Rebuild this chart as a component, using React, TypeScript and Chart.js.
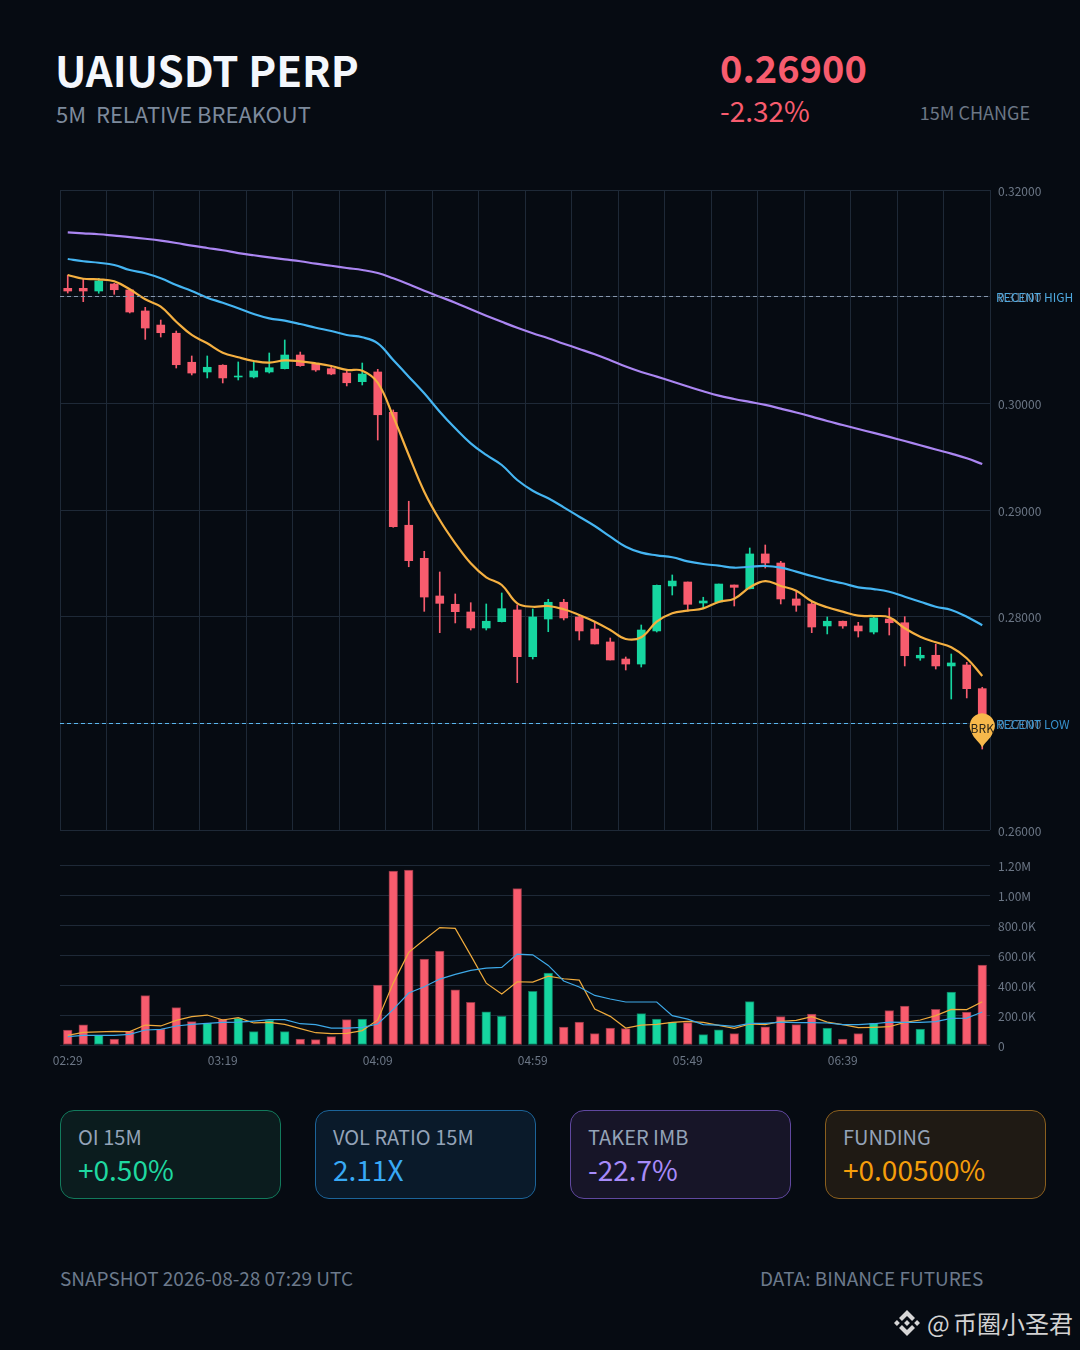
import React, { useEffect, useRef } from "react";
import { Chart, registerables } from "chart.js";

Chart.register(...registerables);

const FONT = '"Noto Sans CJK SC", "Noto Sans", sans-serif';
const BG = "#060b12";
const GRID = "#1e2937";
const TICK = "#6c7786";
const RED = "#f85c6e";
const GREEN = "#16d6a0";

const times = [
  "02:29","02:34","02:39","02:44","02:49","02:54","02:59","03:04","03:09","03:14",
  "03:19","03:24","03:29","03:34","03:39","03:44","03:49","03:54","03:59","04:04",
  "04:09","04:14","04:19","04:24","04:29","04:34","04:39","04:44","04:49","04:54",
  "04:59","05:04","05:09","05:14","05:19","05:24","05:29","05:34","05:39","05:44",
  "05:49","05:54","05:59","06:04","06:09","06:14","06:19","06:24","06:29","06:34",
  "06:39","06:44","06:49","06:54","06:59","07:04","07:09","07:14","07:19","07:24",
];

const opens = [
  0.31078,0.31078,0.31053,0.31119,0.31063,0.30866,0.30734,0.30657,0.30385,0.30294,
  0.30357,0.30247,0.30247,0.30294,0.30325,0.30453,0.30369,0.30325,0.30284,0.30203,
  0.30294,0.29916,0.28857,0.28547,0.28194,0.28116,0.28044,0.27894,0.27953,0.28063,
  0.27625,0.27978,0.28135,0.27997,0.27884,0.27763,0.27603,0.27556,0.27866,0.28288,
  0.28325,0.28128,0.28138,0.28297,0.28262,0.28588,0.28503,0.28166,0.28119,0.27913,
  0.27957,0.27913,0.27856,0.27978,0.27943,0.27613,0.27638,0.27538,0.27547,0.27325,
];
const closes = [
  0.31053,0.31053,0.31147,0.31065,0.30856,0.30706,0.30662,0.30362,0.30284,0.30338,
  0.30238,0.30256,0.30303,0.30334,0.30453,0.30353,0.30313,0.30275,0.30193,0.30275,
  0.29893,0.28843,0.28525,0.28184,0.28125,0.28047,0.27894,0.27957,0.28075,0.27625,
  0.27997,0.28135,0.27988,0.27866,0.27744,0.27594,0.27556,0.27875,0.28294,0.28334,
  0.28116,0.28147,0.28306,0.28275,0.28588,0.28503,0.28166,0.28107,0.27903,0.27957,
  0.27913,0.27866,0.27988,0.27943,0.27634,0.27638,0.27538,0.27566,0.27325,0.26900,
];
const highs = [
  0.31203,0.31166,0.31172,0.31125,0.31069,0.30900,0.30781,0.30678,0.30444,0.30444,
  0.30362,0.30388,0.30388,0.30472,0.30594,0.30481,0.30375,0.30357,0.30313,0.30378,
  0.30319,0.29938,0.29082,0.28613,0.28419,0.28213,0.28131,0.28119,0.28222,0.28109,
  0.28072,0.28163,0.28163,0.28016,0.27950,0.27800,0.27622,0.27922,0.28297,0.28391,
  0.28325,0.28182,0.28306,0.28297,0.28644,0.28672,0.28519,0.28238,0.28138,0.27997,
  0.27959,0.27947,0.27994,0.28081,0.28000,0.27713,0.27741,0.27650,0.27572,0.27338,
];
const lows = [
  0.31034,0.30953,0.31032,0.31022,0.30847,0.30600,0.30622,0.30331,0.30266,0.30238,
  0.30191,0.30219,0.30238,0.30284,0.30322,0.30347,0.30300,0.30268,0.30163,0.30172,
  0.29656,0.28838,0.28468,0.28050,0.27850,0.27941,0.27875,0.27875,0.27950,0.27381,
  0.27603,0.27859,0.27969,0.27781,0.27744,0.27594,0.27500,0.27528,0.27856,0.28203,
  0.28053,0.28081,0.28138,0.28100,0.28259,0.28456,0.28119,0.28050,0.27850,0.27838,
  0.27891,0.27809,0.27838,0.27828,0.27538,0.27591,0.27509,0.27228,0.27238,0.26759,
];

const emaFast = [
  0.31203,0.31168,0.31163,0.31144,0.31069,0.30975,0.30906,0.30765,0.30641,0.30563,
  0.30475,0.30432,0.30397,0.30381,0.30403,0.30394,0.30375,0.30350,0.30313,0.30306,
  0.30193,0.29875,0.29516,0.29172,0.28906,0.28688,0.28500,0.28369,0.28297,0.28125,
  0.28093,0.28100,0.28069,0.28016,0.27953,0.27875,0.27791,0.27807,0.27953,0.28032,
  0.28056,0.28078,0.28138,0.28168,0.28275,0.28334,0.28288,0.28243,0.28144,0.28088,
  0.28047,0.28009,0.28006,0.27994,0.27891,0.27812,0.27760,0.27713,0.27610,0.27444,
];
const emaMid = [
  0.31353,0.31332,0.31318,0.31297,0.31250,0.31219,0.31172,0.31109,0.31053,0.30990,
  0.30943,0.30891,0.30838,0.30797,0.30775,0.30744,0.30709,0.30678,0.30641,0.30619,
  0.30563,0.30406,0.30250,0.30094,0.29922,0.29766,0.29625,0.29516,0.29422,0.29281,
  0.29181,0.29110,0.29025,0.28937,0.28850,0.28750,0.28656,0.28600,0.28575,0.28557,
  0.28519,0.28494,0.28478,0.28459,0.28468,0.28475,0.28459,0.28422,0.28381,0.28344,
  0.28313,0.28275,0.28259,0.28234,0.28187,0.28140,0.28093,0.28063,0.28000,0.27919,
];
const emaSlow = [
  0.31603,0.31594,0.31585,0.31572,0.31559,0.31543,0.31525,0.31503,0.31478,0.31456,
  0.31435,0.31409,0.31388,0.31369,0.31350,0.31332,0.31309,0.31290,0.31269,0.31250,
  0.31222,0.31172,0.31116,0.31056,0.31000,0.30943,0.30882,0.30822,0.30764,0.30708,
  0.30657,0.30610,0.30559,0.30510,0.30460,0.30404,0.30345,0.30294,0.30250,0.30205,
  0.30158,0.30113,0.30072,0.30041,0.30013,0.29985,0.29950,0.29914,0.29875,0.29834,
  0.29797,0.29759,0.29723,0.29685,0.29647,0.29607,0.29567,0.29528,0.29485,0.29431,
];

const volumes = [
  100000,135000,67000,40000,93000,329000,107000,249000,156000,147000,
  173000,178000,89000,164000,89000,40000,36000,56000,169000,173000,
  400000,1160000,1167000,573000,627000,369000,284000,222000,191000,1044000,
  358000,480000,120000,153000,76000,113000,109000,209000,173000,153000,
  149000,69000,102000,76000,289000,122000,189000,136000,207000,113000,
  40000,76000,147000,229000,260000,107000,238000,353000,220000,533000,
];
const volFast = [
  64000,84000,87000,91000,89000,133000,127000,164000,189000,200000,
  167000,182000,147000,151000,138000,109000,82000,76000,78000,96000,
  167000,413000,618000,702000,784000,778000,598000,413000,340000,422000,
  420000,460000,442000,433000,240000,191000,113000,133000,138000,151000,
  158000,151000,131000,111000,140000,136000,158000,164000,189000,153000,
  136000,116000,118000,122000,151000,167000,196000,238000,236000,289000,
];
const volSlow = [
  56000,64000,64000,64000,71000,100000,104000,127000,138000,144000,
  151000,153000,160000,169000,169000,142000,136000,113000,113000,118000,
  140000,238000,347000,389000,440000,471000,498000,513000,518000,607000,
  602000,531000,427000,387000,331000,307000,287000,287000,287000,196000,
  173000,136000,133000,124000,144000,144000,153000,149000,149000,147000,
  136000,136000,142000,153000,151000,151000,156000,178000,180000,220000,
];

const recentHigh = 0.31;
const recentLow = 0.27;
const breakoutPrice = 0.2677;
const priceTicks = [0.26, 0.27, 0.28, 0.29, 0.3, 0.31, 0.32];

const metricLabels = ["OI 15M", "VOL RATIO 15M", "TAKER IMB", "FUNDING"];
const metricValues = ["+0.50%", "2.11X", "-22.7%", "+0.00500%"];
const metricColors = ["#1fd8a0", "#38a9f5", "#a78bfa", "#f59e0b"];
const metricBg = ["#0b1c1e", "#0a1a2a", "#171528", "#1f1a14"];
const metricBorder = ["#127a5c", "#1c6499", "#60489f", "#8a5f1e"];
const metricLeft = [60, 315, 570, 825];

const isUp = opens.map((o, i) => closes[i] >= o);
const barColors = isUp.map((u) => (u ? GREEN : RED));
const barEdges = isUp.map((u) => (u ? "rgba(14,140,106,0.9)" : "rgba(160,60,74,0.9)"));

const overlayPlugin = {
  id: "overlay",
  afterDatasetsDraw(chart: any) {
    const { ctx, chartArea, scales } = chart;
    const y = scales.y;
    const x = scales.x;
    const rows = [
      { v: recentHigh, t: "RECENT HIGH", line: "#8797ad", txt: "rgba(85,185,245,0.9)" },
      { v: recentLow, t: "RECENT LOW", line: "#5ab6ee", txt: "rgba(60,160,225,0.9)" },
    ];
    ctx.save();
    for (const r of rows) {
      const py = Math.floor(y.getPixelForValue(r.v)) + 0.5;
      ctx.strokeStyle = r.line;
      ctx.lineWidth = 1;
      ctx.setLineDash([4, 3]);
      ctx.beginPath();
      ctx.moveTo(chartArea.left, py);
      ctx.lineTo(chartArea.right, py);
      ctx.stroke();
      ctx.setLineDash([]);
      ctx.fillStyle = r.txt;
      ctx.font = `12px ${FONT}`;
      ctx.textAlign = "left";
      ctx.textBaseline = "middle";
      ctx.fillText(r.t, chartArea.right + 6, py + 1);
    }
    // breakout pin, tip sits on the breakout price of the last candle
    const px = x.getPixelForValue(times.length - 1);
    const tip = y.getPixelForValue(breakoutPrice);
    const r = 12.5;
    const cy = tip - 22;
    ctx.fillStyle = "#f7b84b";
    ctx.beginPath();
    ctx.arc(px, cy, r, Math.PI * 0.82, Math.PI * 0.18);
    ctx.bezierCurveTo(px + r * 0.7, cy + r * 1.05, px + 1.5, tip - 5, px, tip);
    ctx.bezierCurveTo(px - 1.5, tip - 5, px - r * 0.7, cy + r * 1.05, px - r * Math.cos(Math.PI * 0.18), cy + r * Math.sin(Math.PI * 0.18));
    ctx.closePath();
    ctx.fill();
    ctx.fillStyle = "#2a2418";
    ctx.font = `12px ${FONT}`;
    ctx.textAlign = "center";
    ctx.textBaseline = "middle";
    ctx.fillText("BRK", px, cy + 3);
    ctx.restore();
  },
};

function useChart(makeConfig: () => any) {
  const ref = useRef<HTMLCanvasElement>(null);
  useEffect(() => {
    if (!ref.current) return;
    const chart = new Chart(ref.current, makeConfig());
    return () => chart.destroy();
  }, []);
  return ref;
}

function priceConfig() {
  return {
    type: "bar",
    plugins: [overlayPlugin],
    data: {
      labels: times,
      datasets: [
        {
          type: "bar",
          data: lows.map((l, i) => [l, highs[i]]),
          backgroundColor: barColors,
          barThickness: 1,
          grouped: false,
          order: 10,
        },
        {
          type: "bar",
          data: opens.map((o, i) => [o, closes[i]]),
          backgroundColor: barColors,
          barThickness: 8,
          grouped: false,
          order: 9,
        },
        { type: "line", data: emaSlow, borderColor: "#ab86f2", borderWidth: 2.2, pointRadius: 0, tension: 0.4, order: 3 },
        { type: "line", data: emaMid, borderColor: "#45b5f2", borderWidth: 2.2, pointRadius: 0, tension: 0.4, order: 2 },
        { type: "line", data: emaFast, borderColor: "#f5b041", borderWidth: 2.2, pointRadius: 0, tension: 0.4, order: 1 },
      ],
    },
    options: {
      animation: false,
      responsive: false,
      devicePixelRatio: 1,
      events: [],
      layout: { padding: { left: 60, top: 20, bottom: 20, right: 0 } },
      plugins: { legend: { display: false }, tooltip: { enabled: false } },
      scales: {
        x: {
          type: "category",
          offset: true,
          border: { display: false },
          grid: {
            offset: true,
            drawTicks: false,
            lineWidth: 1,
            color: (c: any) => (c.index === undefined || c.index % 3 === 0 ? GRID : "transparent"),
          },
          ticks: { display: false, autoSkip: false },
        },
        y: {
          position: "right",
          min: 0.26,
          max: 0.32,
          border: { display: false },
          grid: { color: GRID, drawTicks: false },
          afterBuildTicks: (s: any) => {
            s.ticks = priceTicks.map((value) => ({ value }));
          },
          afterFit: (s: any) => {
            s.width = 90;
          },
          ticks: {
            color: TICK,
            padding: 8,
            labelOffset: 1,
            font: { family: FONT, size: 12 },
            callback: (v: any) => Number(v).toFixed(5),
          },
        },
      },
    },
  };
}

function fmtVol(v: number) {
  if (v === 0) return "0";
  if (v >= 1000000) return (v / 1000000).toFixed(2) + "M";
  return (v / 1000).toFixed(1) + "K";
}

function volumeConfig() {
  return {
    type: "bar",
    data: {
      labels: times,
      datasets: [
        {
          type: "bar",
          data: volumes,
          backgroundColor: barColors,
          borderColor: barEdges,
          borderWidth: 1,
          borderSkipped: false,
          barThickness: 8.7,
          order: 5,
        },
        { type: "line", data: volFast, borderColor: "#eeaa3c", borderWidth: 1.2, pointRadius: 0, tension: 0, order: 2 },
        { type: "line", data: volSlow, borderColor: "#3ea9e8", borderWidth: 1.2, pointRadius: 0, tension: 0, order: 1 },
      ],
    },
    options: {
      animation: false,
      responsive: false,
      devicePixelRatio: 1,
      events: [],
      layout: { padding: { left: 60, top: 15, bottom: 0, right: 0 } },
      plugins: { legend: { display: false }, tooltip: { enabled: false } },
      scales: {
        x: {
          type: "category",
          offset: true,
          border: { display: false },
          grid: { display: false },
          afterFit: (s: any) => {
            s.height = 35;
          },
          ticks: {
            color: TICK,
            padding: 0,
            maxRotation: 0,
            autoSkip: false,
            font: { family: FONT, size: 12 },
            callback: (_: any, i: number) => (i % 10 === 0 ? times[i] : ""),
          },
        },
        y: {
          position: "right",
          min: 0,
          max: 1200000,
          border: { display: false },
          grid: { color: GRID, drawTicks: false },
          afterFit: (s: any) => {
            s.width = 90;
          },
          ticks: {
            color: TICK,
            padding: 8,
            labelOffset: 1,
            stepSize: 200000,
            font: { family: FONT, size: 12 },
            callback: (v: any) => fmtVol(Number(v)),
          },
        },
      },
    },
  };
}

function Txt(props: { x?: number; right?: number; y: number; size: number; color: string; weight?: number; children: any }) {
  const { x, right, y, size, color, weight, children } = props;
  return (
    <div
      style={{
        position: "absolute",
        left: x,
        right,
        top: y,
        fontSize: size,
        lineHeight: `${size}px`,
        color,
        fontWeight: weight ?? 400,
        fontFamily: FONT,
        whiteSpace: "pre",
      }}
    >
      {children}
    </div>
  );
}

export default function App() {
  const priceRef = useChart(priceConfig);
  const volumeRef = useChart(volumeConfig);
  return (
    <div style={{ position: "relative", width: 1080, height: 1350, background: BG, overflow: "hidden" }}>
      <style>{`html,body{margin:0;padding:0;background:${BG};}`}</style>

      <Txt x={55} y={48} size={42} color="#f4f7fc" weight={700}>UAIUSDT PERP</Txt>
      <Txt x={56} y={102} size={22} color="#7d8a9c">5M  RELATIVE BREAKOUT</Txt>
      <Txt x={720} y={48} size={38} color={RED} weight={700}>0.26900</Txt>
      <Txt x={720} y={96} size={28} color={RED}>-2.32%</Txt>
      <Txt right={50} y={103} size={18} color="#6c7786">15M CHANGE</Txt>

      <canvas ref={priceRef} width={1080} height={680} style={{ position: "absolute", left: 0, top: 170, display: "block" }} />
      <canvas ref={volumeRef} width={1080} height={230} style={{ position: "absolute", left: 0, top: 850, display: "block" }} />

      {metricLabels.map((label, i) => (
        <div
          key={label}
          style={{
            position: "absolute",
            left: metricLeft[i],
            top: 1110,
            width: 221,
            height: 89,
            boxSizing: "border-box",
            borderRadius: 14,
            background: metricBg[i],
            border: `1px solid ${metricBorder[i]}`,
          }}
        >
          <Txt x={17} y={16} size={20} color="#94a3b8">{label}</Txt>
          <Txt x={17} y={44} size={28} color={metricColors[i]}>{metricValues[i]}</Txt>
        </div>
      ))}

      <Txt x={60} y={1268} size={19} color="#6c7a8c">SNAPSHOT 2026-08-28 07:29 UTC</Txt>
      <Txt x={760} y={1268} size={19} color="#6c7a8c">DATA: BINANCE FUTURES</Txt>

      <svg viewBox="0 0 126.61 126.61" width={26} height={26} style={{ position: "absolute", left: 894, top: 1310 }}>
        <path
          fill="#d6d6d6"
          d="M38.73 53.2l24.59-24.58 24.6 24.6 14.3-14.31L63.32 0 24.43 38.9l14.3 14.3zM0 63.31l14.3-14.31 14.31 14.31-14.31 14.3zM38.73 73.41L63.32 98l24.6-24.6 14.31 14.3-38.9 38.91-38.9-38.9 14.3-14.3zM98 63.31l14.3-14.31 14.31 14.3-14.31 14.32zM77.83 63.3L63.32 48.78 52.59 59.51l-1.24 1.23-2.54 2.54 14.51 14.52 14.51-14.5z"
        />
      </svg>
      <Txt x={927} y={1311} size={24} color="#d2d2d2">@</Txt>
      <Txt x={953} y={1311} size={24} color="#d2d2d2">币圈小圣君</Txt>
    </div>
  );
}
